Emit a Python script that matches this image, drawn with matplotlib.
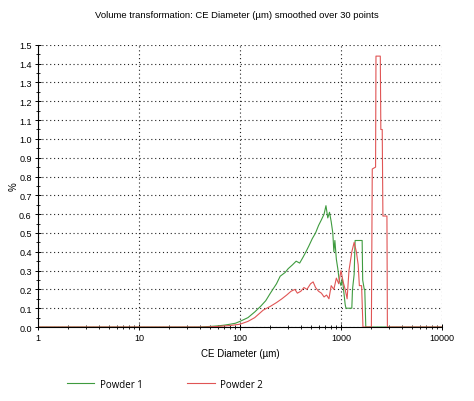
import numpy as np
import matplotlib
matplotlib.use("Agg")
import matplotlib.pyplot as plt
from matplotlib.ticker import LogLocator, MultipleLocator, NullFormatter

# --- Data (CE diameter in um, volume %) ---
p1_d = [1, 40, 50, 60, 70, 80, 90, 100, 120, 140, 160, 180, 200, 230, 250, 280,
        300, 330, 360, 390, 420, 450, 480, 520, 560, 600, 640, 680, 710, 740, 770,
        800, 830, 850, 870, 900, 930, 960, 1000, 1030, 1060, 1100, 1120, 1280, 1300,
        1350, 1380, 1620, 1640, 1700, 1720, 1760, 10000]
p1_v = [0, 0, 0.003, 0.006, 0.01, 0.015, 0.02, 0.03, 0.05, 0.08, 0.11, 0.14, 0.18,
        0.23, 0.27, 0.29, 0.31, 0.33, 0.35, 0.34, 0.37, 0.40, 0.43, 0.47, 0.50, 0.54,
        0.57, 0.60, 0.645, 0.58, 0.61, 0.56, 0.50, 0.40, 0.46, 0.36, 0.31, 0.25, 0.22,
        0.26, 0.20, 0.12, 0.10, 0.10, 0.20, 0.28, 0.46, 0.46, 0.25, 0.20, 0.20, 0.0, 0]

p2_d = [1, 45, 60, 80, 100, 120, 140, 170, 200, 230, 260, 290, 320, 350, 370, 400,
        430, 460, 500, 530, 560, 600, 640, 680, 720, 760, 800, 850, 900, 950, 1000,
        1050, 1100, 1150, 1200, 1280, 1350, 1420, 1480, 1520, 1600, 1650, 2000, 2040,
        2200, 2220, 2450, 2480, 2560, 2600, 2850, 2880, 10000]
p2_v = [0, 0, 0.003, 0.008, 0.015, 0.03, 0.05, 0.09, 0.11, 0.13, 0.15, 0.17, 0.19,
        0.20, 0.18, 0.19, 0.21, 0.20, 0.23, 0.24, 0.21, 0.19, 0.18, 0.16, 0.17, 0.15,
        0.22, 0.20, 0.26, 0.23, 0.30, 0.24, 0.20, 0.15, 0.30, 0.40, 0.45, 0.40, 0.33,
        0.22, 0.22, 0.0, 0.0, 0.84, 0.85, 1.44, 1.44, 1.05, 1.05, 0.59, 0.59, 0, 0]

plt.rcParams["font.family"] = ["Liberation Sans", "DejaVu Sans"]

fig = plt.figure(figsize=(4.74, 4.02), dpi=100)
ax = fig.add_axes([0.080, 0.184, 0.8525, 0.702])

ax.plot(p1_d, p1_v, color="#3f9b3f", lw=0.8, label="Powder 1")
ax.plot(p2_d, p2_v, color="#e05555", lw=0.8, label="Powder 2")

ax.set_xscale("log")
ax.set_xlim(1, 10000)
ax.set_ylim(0, 1.5)
ax.xaxis.set_minor_locator(LogLocator(base=10, subs=np.arange(2, 10), numticks=10))
ax.xaxis.set_minor_formatter(NullFormatter())
ax.set_xticks([1, 10, 100, 1000, 10000])
ax.set_xticklabels(["1", "10", "100", "1000", "10000"])
ax.yaxis.set_major_locator(MultipleLocator(0.1))
ax.yaxis.set_minor_locator(MultipleLocator(0.05))
ax.yaxis.set_major_formatter(plt.FormatStrFormatter("%.1f"))

ax.grid(True, which="major", color="#222222", linestyle=(0, (1, 2.5)), lw=0.8)
ax.set_axisbelow(True)
for s in ["top", "right"]:
    ax.spines[s].set_visible(False)
ax.spines["left"].set_linewidth(0.8)
ax.spines["bottom"].set_linewidth(0.8)

ax.tick_params(which="major", direction="inout", length=5, width=0.7, labelsize=6.5, pad=2)
ax.tick_params(which="minor", direction="inout", length=3, width=0.6)

ax.set_xlabel("CE Diameter (µm)", fontsize=7, labelpad=4)
ax.set_ylabel("%", fontsize=7, labelpad=0)
fig.text(0.5, 0.962, "Volume transformation: CE Diameter (µm) smoothed over 30 points",
         ha="center", va="center", fontsize=6.8)

fig.legend(loc="center", bbox_to_anchor=(0.348, 0.042), ncol=2, frameon=False,
           prop={"family": ["Open Sans", "DejaVu Sans"], "size": 7},
           handlelength=2.8, columnspacing=4.6, handletextpad=0.6)

plt.savefig("out.png", dpi=100)
plt.close()
